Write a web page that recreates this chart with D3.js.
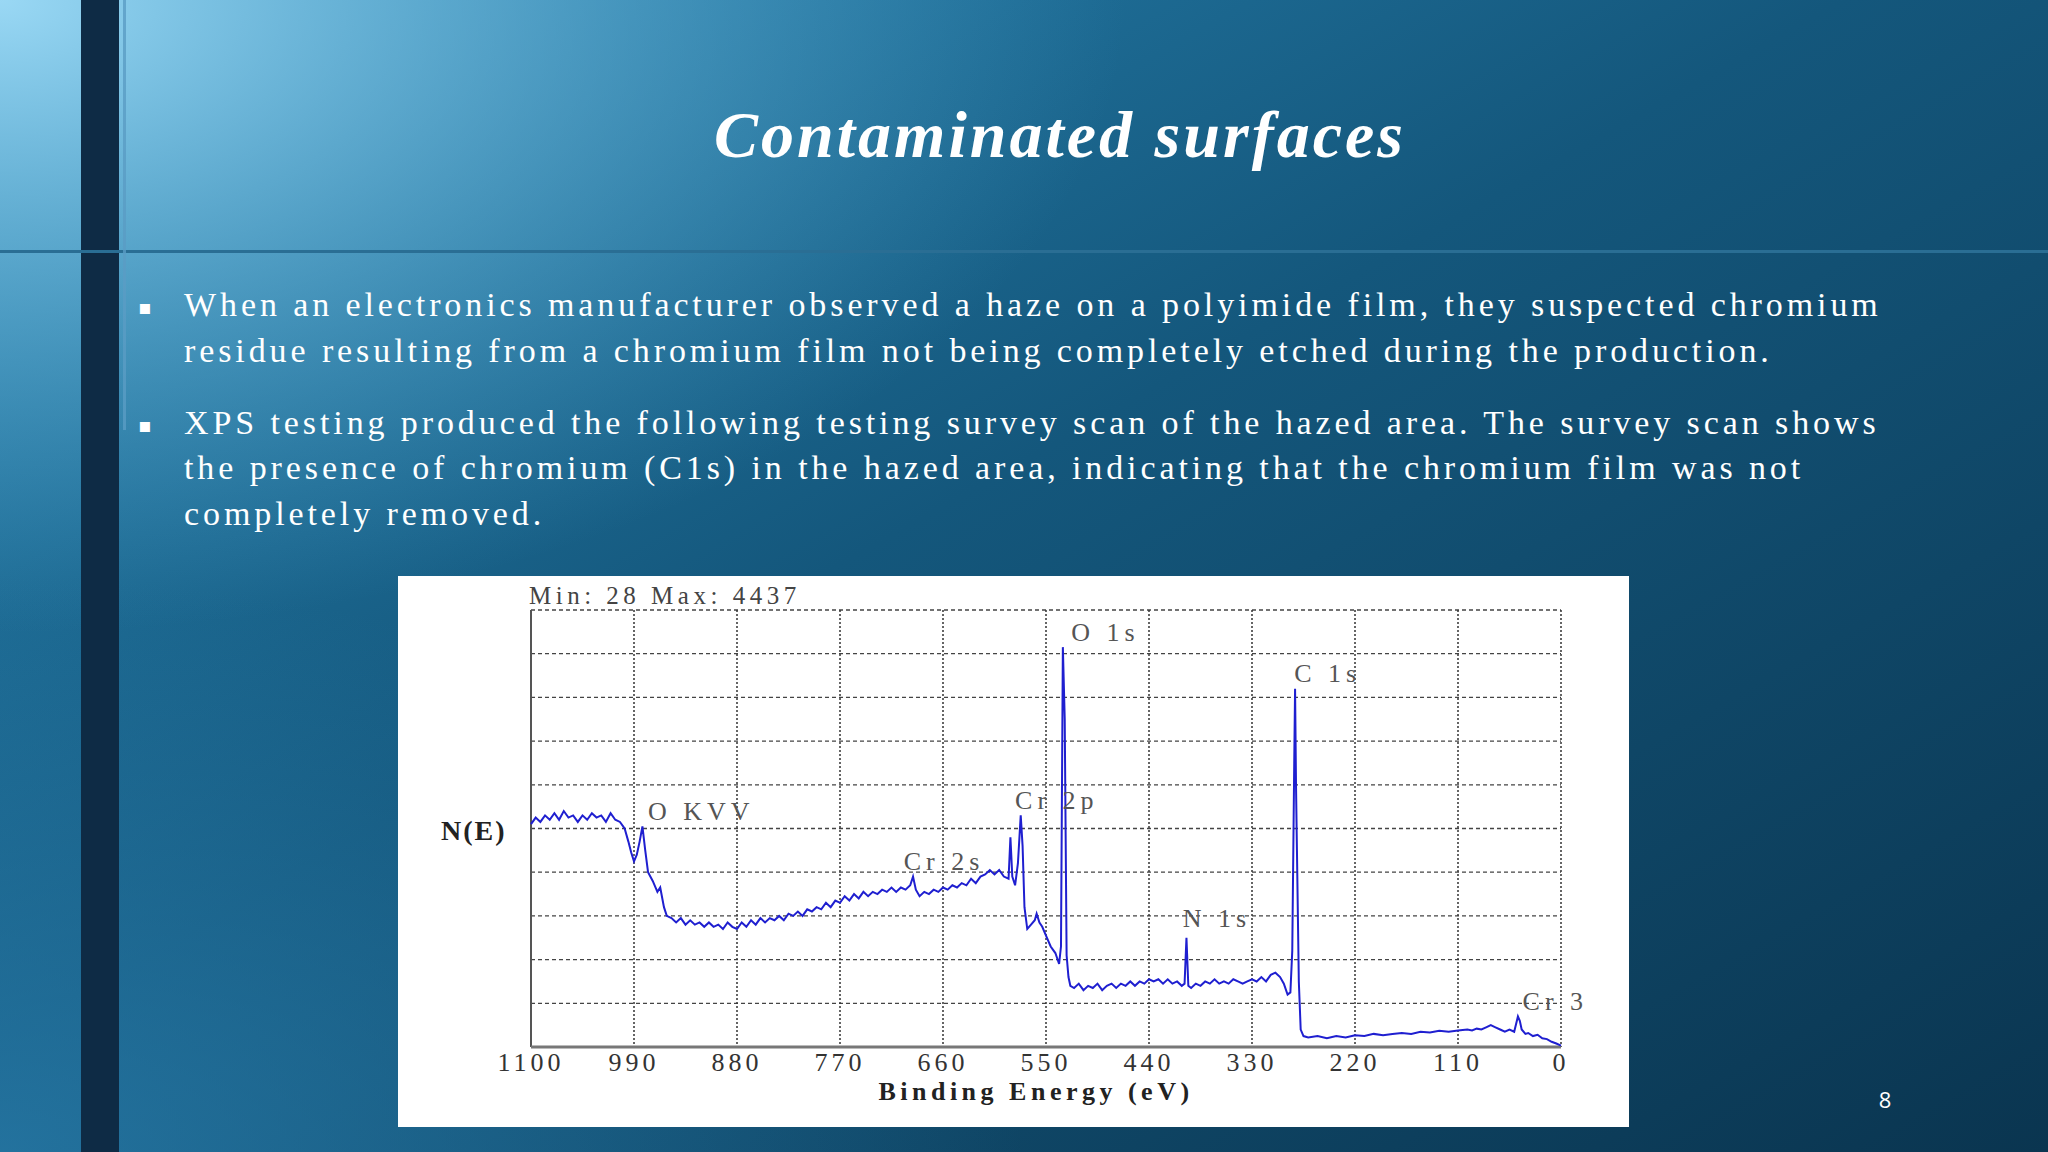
<!DOCTYPE html>
<html><head><meta charset="utf-8">
<script src="https://cdn.jsdelivr.net/npm/d3@7"></script>
<style>html,body{margin:0;padding:0;overflow:hidden;background:#0d3c5a}</style>
</head><body>
<svg id="s" width="2048" height="1152"></svg>
<script>
const titleText = "Contaminated surfaces";
const bullets = [
  ["When an electronics manufacturer observed a haze on a polyimide film, they suspected chromium",
   "residue resulting from a chromium film not being completely etched during the production."],
  ["XPS testing produced the following testing survey scan of the hazed area. The survey scan shows",
   "the presence of chromium (C1s) in the hazed area, indicating that the chromium film was not",
   "completely removed."]
];
const xTicks = [1100, 990, 880, 770, 660, 550, 440, 330, 220, 110, 0];
const yGrid = [0,1,2,3,4,5,6,7,8,9,10];
const energy = [1100,1095,1090,1085,1080,1075,1070,1065,1060,1055,1050,1045,1040,1035,1030,1025,1020,1015,1010,1005,1000,996,993,990,987,984,981,978,975,970,965,962,958,955,950,945,940,935,930,925,920,915,910,905,900,895,890,885,880,875,870,865,860,855,850,845,840,835,830,825,820,815,810,805,800,795,790,785,780,775,770,765,760,755,750,745,740,735,730,725,720,715,710,705,700,695,692,689,685,680,675,670,665,660,655,650,645,640,635,630,625,620,615,610,605,600,595,590,588,586,583,580,577,575,573,570,566,562,560,557,554,550,545,540,536,534,532,530,528,526,524,520,515,510,505,500,495,490,485,480,475,470,465,460,455,450,445,440,435,430,425,420,415,410,405,402,400,398,395,390,385,380,375,370,365,360,355,350,345,340,335,330,325,320,315,310,305,300,296,292,289,287,285,284,283,282,280,278,275,270,260,250,240,230,220,210,200,190,180,170,160,150,140,130,120,110,100,95,90,85,80,75,70,65,60,55,50,46,44,42,38,35,30,25,20,15,10,5,0];
const intensity = [5.1,5.25,5.15,5.3,5.2,5.35,5.2,5.4,5.25,5.3,5.15,5.3,5.2,5.35,5.25,5.3,5.15,5.35,5.2,5.15,5.0,4.7,4.45,4.25,4.4,4.7,5.05,4.5,4.0,3.8,3.55,3.65,3.2,3.0,2.95,2.85,2.95,2.8,2.9,2.8,2.85,2.75,2.85,2.75,2.8,2.7,2.85,2.75,2.7,2.85,2.75,2.9,2.8,2.95,2.85,2.95,2.9,3.0,2.9,3.05,3.0,3.1,3.0,3.15,3.1,3.2,3.15,3.3,3.2,3.35,3.3,3.45,3.35,3.5,3.4,3.55,3.45,3.55,3.5,3.6,3.55,3.65,3.55,3.65,3.6,3.7,3.9,3.6,3.45,3.55,3.5,3.6,3.55,3.65,3.6,3.7,3.65,3.75,3.7,3.85,3.75,3.9,3.95,4.05,3.95,4.05,3.9,3.85,4.8,3.9,3.7,4.2,5.3,4.6,3.2,2.7,2.8,2.9,3.05,2.85,2.75,2.55,2.3,2.15,1.9,2.3,9.15,7.5,2.1,1.6,1.4,1.35,1.45,1.3,1.4,1.35,1.45,1.3,1.4,1.45,1.35,1.45,1.4,1.5,1.4,1.5,1.45,1.55,1.5,1.55,1.45,1.55,1.45,1.5,1.4,1.45,2.5,1.4,1.35,1.45,1.4,1.5,1.45,1.55,1.45,1.5,1.45,1.55,1.5,1.45,1.5,1.55,1.5,1.6,1.5,1.65,1.7,1.6,1.45,1.2,1.25,2.2,6.3,8.2,6.0,4.5,1.5,0.4,0.25,0.22,0.25,0.2,0.25,0.22,0.27,0.25,0.3,0.27,0.3,0.32,0.3,0.35,0.33,0.37,0.35,0.38,0.4,0.38,0.42,0.4,0.45,0.5,0.45,0.4,0.35,0.4,0.35,0.7,0.6,0.4,0.3,0.32,0.25,0.28,0.2,0.18,0.12,0.08,0.03];
const peakLabels = [
  {t:"O 1s", e:523, v:9.3}, {t:"C 1s", e:285, v:8.35}, {t:"Cr 2p", e:583, v:5.45},
  {t:"N 1s", e:404, v:2.75}, {t:"Cr 3", e:41, v:0.85}, {t:"O KVV", e:975, v:5.2}, {t:"Cr 2s", e:702, v:4.05}
];

const svg = d3.select("#s");
const defs = svg.append("defs");
const lg = defs.append("linearGradient").attr("id","bg").attr("x1","0").attr("y1","0").attr("x2","1").attr("y2","1");
lg.append("stop").attr("offset","0").attr("stop-color","#2a86b4");
lg.append("stop").attr("offset","0.45").attr("stop-color","#14577c");
lg.append("stop").attr("offset","1").attr("stop-color","#0a3550");
const rg = defs.append("radialGradient").attr("id","hl").attr("cx","0").attr("cy","0").attr("r","0.55");
rg.append("stop").attr("offset","0").attr("stop-color","#9ad8f4").attr("stop-opacity",1);
rg.append("stop").attr("offset","1").attr("stop-color","#4fa6d0").attr("stop-opacity",0);
const rg2 = defs.append("radialGradient").attr("id","hl2").attr("cx","0").attr("cy","1").attr("r","0.5");
rg2.append("stop").attr("offset","0").attr("stop-color","#2a7fae").attr("stop-opacity",0.7);
rg2.append("stop").attr("offset","1").attr("stop-color","#2a7fae").attr("stop-opacity",0);

svg.append("rect").attr("width",2048).attr("height",1152).attr("fill","url(#bg)");
svg.append("rect").attr("width",2048).attr("height",1152).attr("fill","url(#hl)");
svg.append("rect").attr("width",2048).attr("height",1152).attr("fill","url(#hl2)");
svg.append("rect").attr("x",81).attr("y",0).attr("width",38).attr("height",1152).attr("fill","#0e2b45");
svg.append("rect").attr("x",0).attr("y",250).attr("width",2048).attr("height",3).attr("fill","#2a6e94");
svg.append("rect").attr("x",123).attr("y",0).attr("width",3).attr("height",430).attr("fill","#5a9cc4").attr("opacity",0.8);

svg.append("text").attr("x",1060).attr("y",157).attr("text-anchor","middle")
  .attr("font-family","Liberation Serif").attr("font-style","italic").attr("font-weight","bold")
  .attr("font-size",66).attr("letter-spacing",3).attr("fill","#fff").text(titleText);

const lineY = [[316,362],[434,479,525]];
bullets.forEach((b,i)=>{
  svg.append("text").attr("x",138).attr("y",lineY[i][0]-2).attr("font-size",20).attr("fill","#fff")
    .attr("font-family","DejaVu Sans").text("\u25AA");
  b.forEach((l,j)=>svg.append("text").attr("x",184).attr("y",lineY[i][j])
    .attr("font-family","Liberation Serif").attr("font-size",34).attr("letter-spacing",3.9)
    .attr("fill","#fff").text(l));
});
svg.append("text").attr("x",1885).attr("y",1108).attr("text-anchor","middle").attr("font-family","Open Sans")
  .attr("font-size",22).attr("fill","#fff").text("8");

// chart
svg.append("rect").attr("x",398).attr("y",576).attr("width",1231).attr("height",551).attr("fill","#fff");
const x = d3.scaleLinear().domain([1100,0]).range([531,1561]);
const y = d3.scaleLinear().domain([0,10]).range([1047,610]);
const g = svg.append("g");
g.selectAll(".hg").data(yGrid.slice(1)).join("line").attr("x1",531).attr("x2",1561)
  .attr("y1",d=>y(d)).attr("y2",d=>y(d)).attr("stroke","#444").attr("stroke-width",1.3).attr("stroke-dasharray","4,3");
g.selectAll(".vg").data(xTicks.slice(1)).join("line").attr("x1",d=>x(d)).attr("x2",d=>x(d))
  .attr("y1",610).attr("y2",1047).attr("stroke","#333").attr("stroke-width",1.5).attr("stroke-dasharray","2,2");
g.append("line").attr("x1",531).attr("x2",531).attr("y1",610).attr("y2",1047).attr("stroke","#555").attr("stroke-width",2);
g.append("line").attr("x1",531).attr("x2",1561).attr("y1",1047).attr("y2",1047).attr("stroke","#777").attr("stroke-width",3);

const pts = energy.map((e,i)=>[e,intensity[i]]);
g.append("path").datum(pts).attr("fill","none").attr("stroke","#1f1fd0").attr("stroke-width",2)
  .attr("d",d3.line().x(d=>x(d[0])).y(d=>y(d[1])));

g.selectAll(".tl").data(xTicks).join("text").attr("x",d=>x(d)).attr("y",1071).attr("text-anchor","middle")
  .attr("font-family","Liberation Serif").attr("font-size",26).attr("letter-spacing",4).attr("fill","#333").text(d=>d);
g.append("text").attr("x",1036).attr("y",1100).attr("text-anchor","middle").attr("font-family","Liberation Serif")
  .attr("font-weight","bold").attr("font-size",26).attr("letter-spacing",4.5).attr("fill","#222").text("Binding Energy (eV)");
g.append("text").attr("x",441).attr("y",840).attr("font-family","Liberation Serif")
  .attr("font-weight","bold").attr("font-size",28).attr("letter-spacing",2).attr("fill","#222").text("N(E)");
g.append("text").attr("x",529).attr("y",604).attr("font-family","Liberation Serif")
  .attr("font-size",25).attr("letter-spacing",4.5).attr("fill","#444").text("Min: 28  Max: 4437");
g.selectAll(".pl").data(peakLabels).join("text").attr("x",d=>x(d.e)).attr("y",d=>y(d.v))
  .attr("font-family","Liberation Serif").attr("font-size",26).attr("letter-spacing",5).attr("fill","#555").text(d=>d.t);
</script>
</body></html>
